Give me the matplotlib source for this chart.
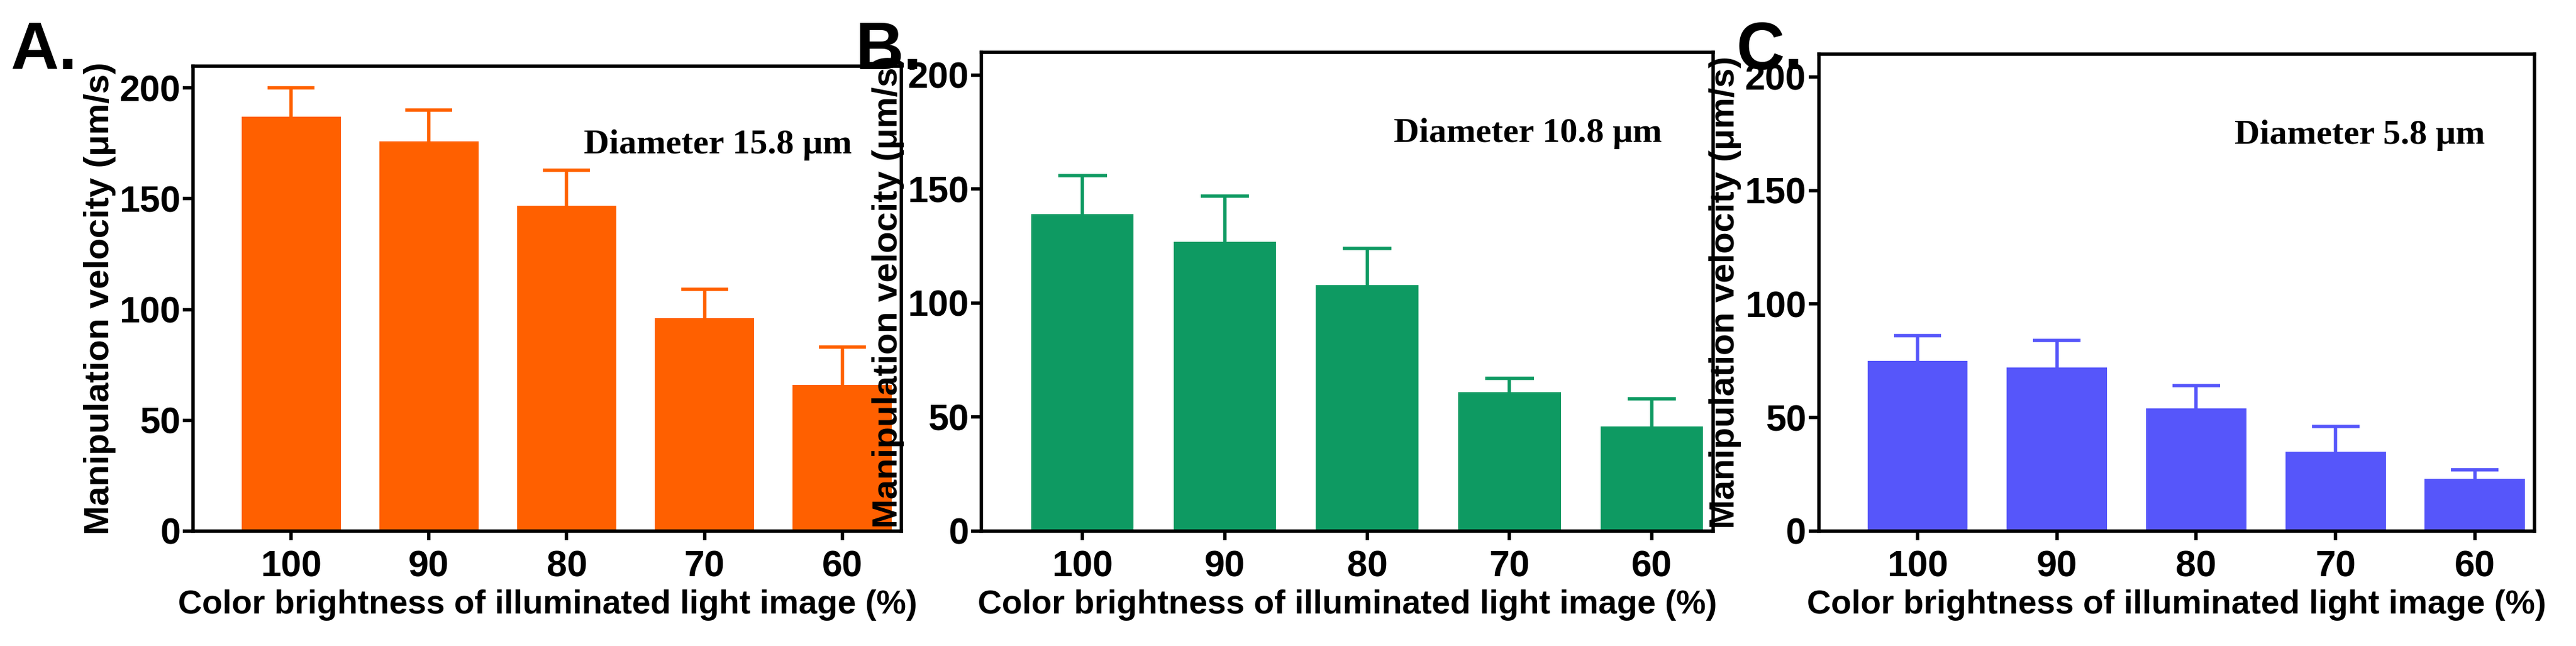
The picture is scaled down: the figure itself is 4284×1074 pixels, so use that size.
import matplotlib
matplotlib.use("Agg")
import matplotlib.pyplot as plt

categories = ["100", "90", "80", "70", "60"]
vel_a = [187, 176, 147, 96, 66]
err_a = [13, 14, 16, 13, 17]
vel_b = [139, 127, 108, 61, 46]
err_b = [17, 20, 16, 6, 12]
vel_c = [75, 72, 54, 35, 23]
err_c = [11, 12, 10, 11, 4]
labels = ["A.", "B.", "C."]
notes = ["Diameter 15.8 \u03bcm", "Diameter 10.8 \u03bcm", "Diameter 5.8 \u03bcm"]
colors = ["#FF6000", "#0E9A62", "#5656FA"]

fig = plt.figure(figsize=(42.84, 10.74), dpi=100)
boxes = [(0.075, 0.178, 0.275, 0.72), (0.381, 0.178, 0.284, 0.741), (0.706, 0.178, 0.278, 0.738)]
letter_x = [0.004, 0.332, 0.674]
sans = ["Liberation Sans", "DejaVu Sans"]
serif = ["Liberation Serif", "DejaVu Serif"]
for i, (vals, errs) in enumerate([(vel_a, err_a), (vel_b, err_b), (vel_c, err_c)]):
    ax = fig.add_axes(boxes[i])
    x = list(range(len(categories)))
    ax.bar(x, vals, width=0.72, color=colors[i], zorder=2)
    tops = [v + e for v, e in zip(vals, errs)]
    ax.vlines(x, vals, tops, color=colors[i], lw=4, zorder=3)
    ax.hlines(tops, [xi - 0.17 for xi in x], [xi + 0.17 for xi in x], color=colors[i], lw=4, zorder=3)
    ax.set_xlim(-0.71, 4.43)
    ax.set_ylim(0, 210)
    ax.set_yticks([0, 50, 100, 150, 200])
    ax.set_xticks(x)
    ax.set_xticklabels(categories)
    for s in ax.spines.values():
        s.set_linewidth(4)
    ax.tick_params(axis="y", direction="out", length=12, width=4, labelsize=44, pad=3)
    ax.tick_params(axis="x", direction="inout", length=22, width=4, labelsize=44, pad=12)
    for t in ax.get_xticklabels() + ax.get_yticklabels():
        t.set_family(sans)
        t.set_fontweight("bold")
    ax.set_ylabel("Manipulation velocity (\u03bcm/s)", fontsize=42, fontweight="bold", family=sans, labelpad=4)
    ax.set_xlabel("Color brightness of illuminated light image (%)", fontsize=40, fontweight="bold",
                  family=sans, labelpad=6)
    ax.text(0.93, 0.83, notes[i], transform=ax.transAxes, ha="right", va="center",
            fontsize=42, fontweight="bold", family=serif)
    fig.text(letter_x[i], 0.92, labels[i], fontsize=80, fontweight="bold", family=sans, va="center")

fig.savefig("out.png", dpi=100)
